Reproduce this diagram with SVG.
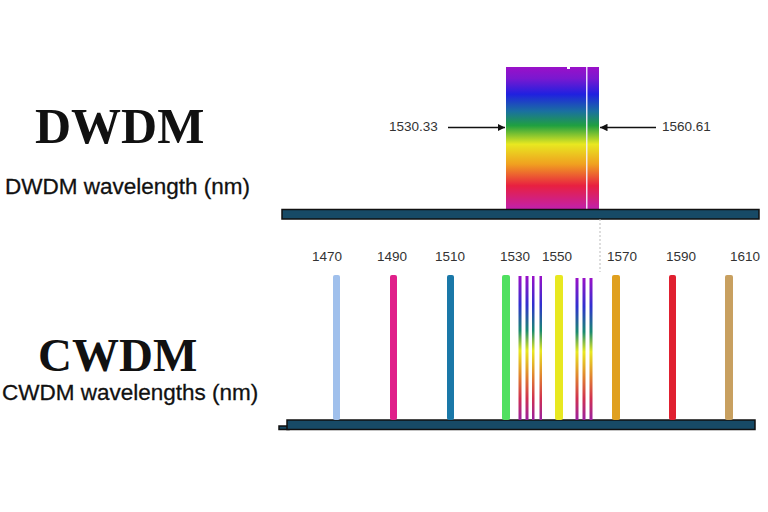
<svg xmlns="http://www.w3.org/2000/svg" width="768" height="512" viewBox="0 0 768 512">
  <defs>
    <style>
      .title { font-family: "Liberation Serif", "Times New Roman", serif; font-weight: bold; font-size: 50px; fill: #111; }
      .sub { font-family: "Liberation Sans", Arial, sans-serif; font-size: 22.5px; fill: #111; stroke: #111; stroke-width: 0.3; }
      .num { font-family: "Liberation Sans", Arial, sans-serif; font-size: 13.5px; fill: #333; }
      .axis { fill: #174a66; stroke: #111; stroke-width: 1.5; }
      .arrow { stroke: #111; stroke-width: 1.5; fill: none; marker-end: url(#ah); }
    </style>
    <linearGradient id="spec" x1="0" y1="0" x2="0" y2="1">
      <stop offset="0" stop-color="#9a10c8"/>
      <stop offset="0.08" stop-color="#7a18d0"/>
      <stop offset="0.19" stop-color="#2020e0"/>
      <stop offset="0.31" stop-color="#1a70a0"/>
      <stop offset="0.41" stop-color="#20a040"/>
      <stop offset="0.54" stop-color="#e8e820"/>
      <stop offset="0.68" stop-color="#f0a020"/>
      <stop offset="0.83" stop-color="#e82040"/>
      <stop offset="1" stop-color="#c020b0"/>
    </linearGradient>
    <linearGradient id="thin" x1="0" y1="0" x2="0" y2="1">
      <stop offset="0" stop-color="#9a10c8"/>
      <stop offset="0.2" stop-color="#3030d0"/>
      <stop offset="0.38" stop-color="#1a8a70"/>
      <stop offset="0.52" stop-color="#e8e820"/>
      <stop offset="0.7" stop-color="#e08030"/>
      <stop offset="0.85" stop-color="#d03050"/>
      <stop offset="1" stop-color="#9a20a0"/>
    </linearGradient>
    <marker id="ah" viewBox="0 0 10 10" refX="10" refY="5" markerWidth="5" markerHeight="5" orient="auto">
      <path d="M0,0 L10,5 L0,10 z" fill="#111"/>
    </marker>
  </defs>
  <rect width="768" height="512" fill="#fff"/>

  <g id="dwdm-title">
    <text class="title" x="35" y="143">DWDM</text>
    <text class="sub" x="5" y="194">DWDM wavelength (nm)</text>
  </g>
  <g id="cwdm-title">
    <text class="title" x="38" y="371" style="font-size:47px">CWDM</text>
    <text class="sub" x="2" y="400">CWDM wavelengths (nm)</text>
  </g>

  <g id="dwdm-spectrum">
    <rect x="506" y="67" width="93" height="143" fill="url(#spec)"/>
    <rect x="586" y="67" width="1.5" height="143" fill="#f4f0ff" opacity="0.9"/>
    <rect x="567" y="66" width="3" height="3" fill="#fff"/>
  </g>
  <g id="dwdm-axis">
    <rect class="axis" x="282" y="209.5" width="477" height="9.5"/>
  </g>
  <g id="dwdm-labels">
    <text class="num" x="389" y="131">1530.33</text>
    <text class="num" x="662" y="131">1560.61</text>
  </g>

  <g id="connectors">
    <line class="arrow" x1="448" y1="127.5" x2="505" y2="127.5"/>
    <line class="arrow" x1="656" y1="127.5" x2="600" y2="127.5"/>
    <line x1="600" y1="219" x2="600" y2="272" stroke="#bbb" stroke-width="1" stroke-dasharray="2,2"/>
  </g>

  <g id="cwdm-axis">
    <rect class="axis" x="279" y="426" width="10" height="3.5"/>
    <rect class="axis" x="287" y="420" width="468" height="9.5"/>
  </g>

  <g id="cwdm-channels">
    <rect x="333" y="275" width="7" height="145" rx="2" fill="#a0c0ec"/>
    <rect x="390" y="275" width="7" height="145" rx="2" fill="#e0208a"/>
    <rect x="447" y="275" width="7" height="145" rx="2" fill="#1a78a8"/>
    <rect x="502" y="275" width="8" height="145" rx="2" fill="#50e060"/>
    <rect x="518.5" y="276" width="3" height="144" fill="url(#thin)"/>
    <rect x="525.5" y="276" width="3" height="144" fill="url(#thin)"/>
    <rect x="532" y="276" width="2.5" height="144" fill="url(#thin)"/>
    <rect x="539.5" y="276" width="2.5" height="144" fill="url(#thin)"/>
    <rect x="555" y="275" width="8" height="145" rx="2" fill="#e8e820"/>
    <rect x="575.5" y="278" width="3" height="142" fill="url(#thin)"/>
    <rect x="582.5" y="278" width="3" height="142" fill="url(#thin)"/>
    <rect x="589.5" y="278" width="3" height="142" fill="url(#thin)"/>
    <rect x="612" y="275" width="8" height="145" rx="2" fill="#e0a020"/>
    <rect x="669" y="275" width="7" height="145" rx="2" fill="#e02030"/>
    <rect x="725" y="275" width="8" height="145" rx="2" fill="#c8a060"/>
  </g>

  <g id="cwdm-labels">
    <text class="num" x="327" y="261" text-anchor="middle">1470</text>
    <text class="num" x="392" y="261" text-anchor="middle">1490</text>
    <text class="num" x="450" y="261" text-anchor="middle">1510</text>
    <text class="num" x="515" y="261" text-anchor="middle">1530</text>
    <text class="num" x="557" y="261" text-anchor="middle">1550</text>
    <text class="num" x="622" y="261" text-anchor="middle">1570</text>
    <text class="num" x="681" y="261" text-anchor="middle">1590</text>
    <text class="num" x="745" y="261" text-anchor="middle">1610</text>
  </g>
</svg>
